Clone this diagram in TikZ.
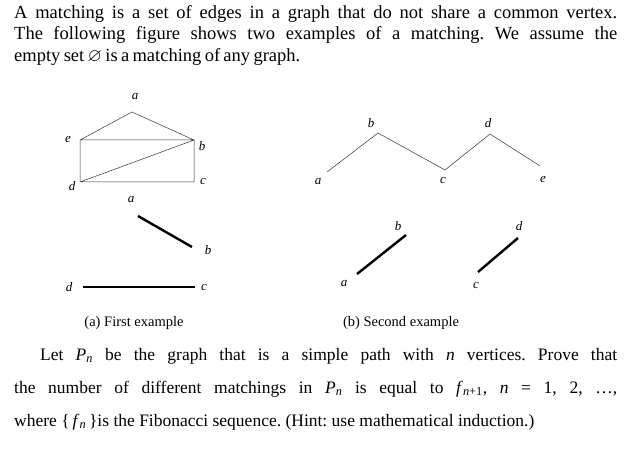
\documentclass[tikz,border=0pt]{standalone}
\usepackage{amssymb}
\usepackage{fontspec}
\setmainfont{Liberation Serif}
\frenchspacing
\begin{document}
\begin{tikzpicture}[x=1pt,y=-1pt,
  lab/.style={font=\fontsize{13}{13}\selectfont\itshape,inner sep=0pt},
  ed/.style={line width=0.5pt,draw=black!80},
  me/.style={line width=2.4pt},
  pt/.style={inner sep=0pt,minimum size=0pt}]
\useasboundingbox (0,0) rectangle (631,462);
\node[anchor=north west,inner sep=0pt,text width=603pt,align=justify,font=\fontsize{18.5}{21.5}\selectfont] (top) at (14,5)
{\spaceskip=0.18em plus 1em minus 0.1em A matching is a set of edges in a graph that do not share a common vertex.\linebreak The following figure shows two examples of a matching. We assume the\linebreak empty set $\varnothing$ is a matching of any graph.};
% graph A
\coordinate (a) at (132,112); \coordinate (e) at (80,140); \coordinate (b) at (194,140);
\coordinate (d) at (80,182); \coordinate (c) at (194,182);
\draw[ed] (e)--(a)--(b)--(e)--(d)--(c)--(b)--(d);
\node[lab] (la) at (135,97) {a}; \node[lab] (le) at (68,140) {e};
\node[lab] (lb) at (202,146) {b}; \node[lab] (ld) at (72,186) {d};
\node[lab] (lc) at (203,182) {c};
% matching A
\coordinate (ma) at (138,216); \coordinate (mb) at (192,247);
\coordinate (md) at (83,287); \coordinate (mc) at (195,287);
\draw[me] (ma)--(mb); \draw[me] (md)--(mc);
\node[lab] (lma) at (131,200) {a}; \node[lab] (lmb) at (208,250) {b};
\node[lab] (lmd) at (69,287) {d}; \node[lab] (lmc) at (204,287) {c};
% graph B
\coordinate (A) at (327,172); \coordinate (B) at (378,133); \coordinate (C) at (445,170);
\coordinate (D) at (490,134); \coordinate (E) at (540,166);
\draw[ed] (A)--(B)--(C)--(D)--(E);
\node[lab] (lA) at (318,182) {a}; \node[lab] (lB) at (371,123) {b};
\node[lab] (lC) at (443,181) {c}; \node[lab] (lD) at (488,123) {d};
\node[lab] (lE) at (543,180) {e};
% matching B
\coordinate (MA) at (357,274); \coordinate (MB) at (406,235);
\coordinate (MC) at (478,272); \coordinate (MD) at (518,238);
\draw[me] (MA)--(MB); \draw[me] (MC)--(MD);
\node[lab] (lMA) at (344,284) {a}; \node[lab] (lMB) at (398,226) {b};
\node[lab] (lMC) at (476,286) {c}; \node[lab] (lMD) at (519,226) {d};
% captions
\node[font=\fontsize{14.5}{15}\selectfont] (capa) at (134,323) {(a) First example};
\node[font=\fontsize{14.5}{15}\selectfont] (capb) at (401,323) {(b) Second example};
% bottom
\node[anchor=north west,inner sep=0pt,text width=603pt,align=justify,font=\fontsize{17.5}{33}\selectfont] (bot) at (14,348)
{\parfillskip=0pt\hspace*{26pt}Let \textit{P}\textsubscript{\textit{n}} be the graph that is a simple path with \textit{n} vertices. Prove that\linebreak the number of different matchings in \textit{P}\textsubscript{\textit{n}} is equal to \textit{f}\textsubscript{\textit{n}+1}, \textit{n} = 1, 2, \ldots,\linebreak where \{\,\textit{f}\textsubscript{\textit{n}}\,\}is the Fibonacci sequence. (Hint: use mathematical induction.)};
\end{tikzpicture}
\end{document}
